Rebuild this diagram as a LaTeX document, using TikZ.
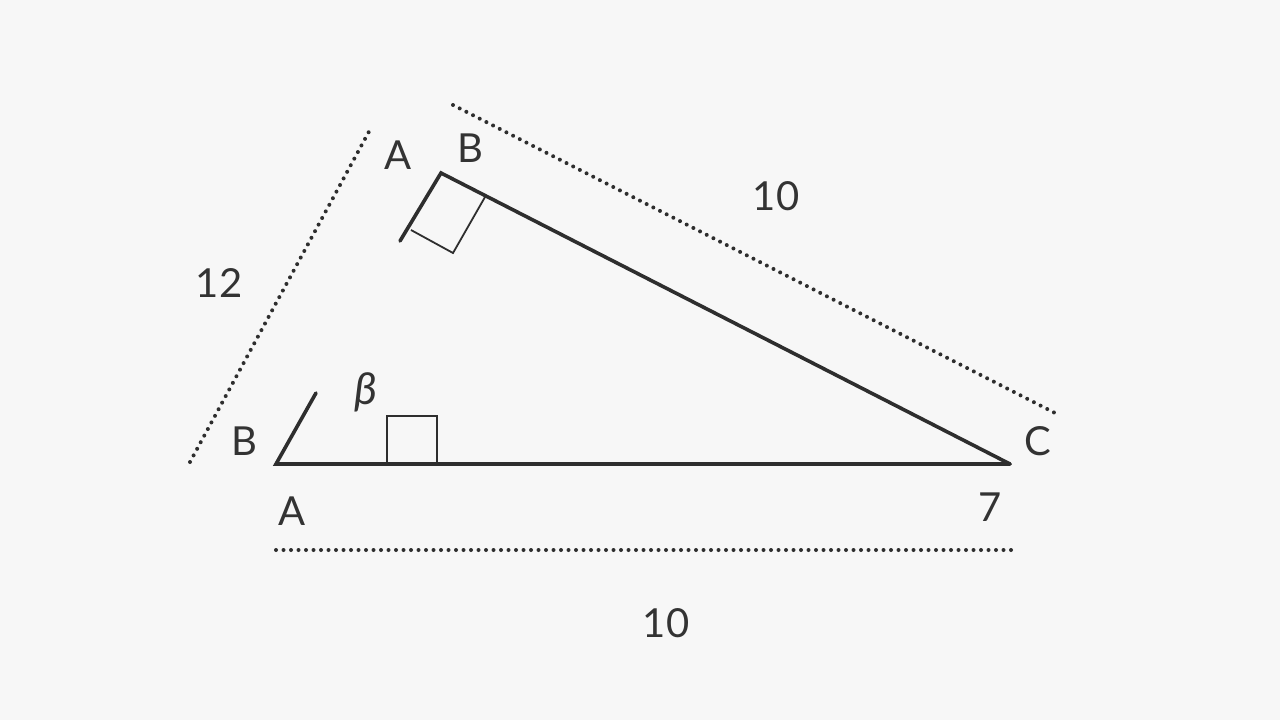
\documentclass[tikz,border=0pt]{standalone}
\usepackage{fontspec}
\setmainfont{Lato}
\begin{document}
\begin{tikzpicture}[x=1pt,y=-1pt,
  lbl/.style={text=black!80,font=\fontsize{40}{40}\selectfont,inner sep=0pt},
  thick line/.style={draw=black!82,line width=3.6pt,line cap=round,line join=miter},
  thin line/.style={draw=black!82,line width=1.8pt},
  dotline/.style={draw=black!82,line width=4pt,line cap=round,dash pattern=on 0pt off 7.5pt}]
\fill[black!3] (0,0) rectangle (1280,720);
\useasboundingbox (0,0) rectangle (1280,720);
\coordinate (A1) at (276,464); \coordinate (C1) at (1010,464); \coordinate (L1) at (316,393);
\coordinate (B2) at (441,173); \coordinate (C2) at (1010,464); \coordinate (L2) at (400,241);
\draw[thick line] (L1) -- (A1) -- (C1);
\draw[thick line] (L2) -- (B2) -- (C2);
\draw[thin line] (387,464) -- (387,416) -- (437,416) -- (437,464);
\draw[thin line] (485,197) -- (453,253) -- (411,230);
\draw[dotline] (190,462) -- (372,126);
\draw[dotline] (453,105) -- (1055,413);
\draw[dotline] (276,550) -- (1012,550);
\node[lbl] (a) at (398,155) {A};
\node[lbl] (b) at (470,148) {B};
\node[lbl] (t1) at (776,196) {10};
\node[lbl] (t2) at (219,283) {12};
\node[lbl,font=\fontsize{44}{44}\selectfont\itshape] (be) at (366,392) {β};
\node[lbl] (b2) at (244,441) {B};
\node[lbl] (a2) at (292,511) {A};
\node[lbl] (c) at (1038,441) {C};
\node[lbl] (s) at (990,507) {7};
\node[lbl] (t3) at (666,623) {10};
\end{tikzpicture}
\end{document}
